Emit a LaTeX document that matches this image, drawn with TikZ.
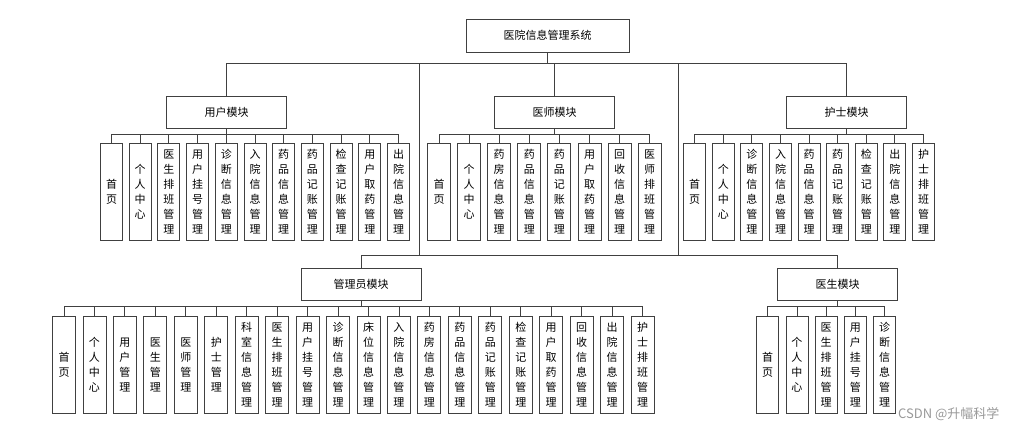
\documentclass[tikz,border=0pt]{standalone}
\usepackage{fontspec}
\setmainfont{Noto Sans CJK SC}
\begin{document}
\begin{tikzpicture}[x=1pt,y=-1pt,
  box/.style={draw=black!75,line width=0.9pt,fill=white,font=\fontsize{11}{13}\selectfont,inner sep=0pt},
  mod/.style={box,minimum width=120pt,minimum height=32pt},
  leaf/.style={box,minimum width=22pt,minimum height=97pt,align=center,font=\fontsize{11}{15}\selectfont},
  ln/.style={draw=black!75,line width=0.9pt}]
\useasboundingbox (0,0) rectangle (1017,434);
\node[box,minimum width=163pt,minimum height=33pt] (root) at (547.5,35.5) {医院信息管理系统};
\node[mod] (user) at (226.5,112) {用户模块};
\node[mod] (doc) at (554.5,112) {医师模块};
\node[mod] (nurse) at (846.5,112) {护士模块};
\node[mod] (admin) at (361,284) {管理员模块};
\node[mod] (doc2) at (837.5,284) {医生模块};
\coordinate (jl) at (419,63);
\coordinate (jr) at (678,63);
\coordinate (bl) at (419,255);
\coordinate (br) at (678,255);
\draw[ln] (root.south) |- (user.north |- jl) -- (user.north);
\draw[ln] (root.south) |- (nurse.north |- jr) -- (nurse.north);
\draw[ln] (jl) -- (bl) -| (admin.north);
\draw[ln] (jr) -- (br) -| (doc2.north);
\draw[ln] (bl) -- (br);
\draw[ln] (root.south |- jl) -| (doc.north);
% user children
\foreach \t [count=\i from 0] in {{首\\页},{个\\人\\中\\心},{医\\生\\排\\班\\管\\理},{用\\户\\挂\\号\\管\\理},{诊\\断\\信\\息\\管\\理},{入\\院\\信\\息\\管\\理},{药\\品\\信\\息\\管\\理},{药\\品\\记\\账\\管\\理},{检\\查\\记\\账\\管\\理},{用\\户\\取\\药\\管\\理},{出\\院\\信\\息\\管\\理}}{
  \node[leaf,anchor=north] (u\i) at (111.5+28.7*\i,143) {\t};
  \draw[ln] (user.south) -- ++(0,6) -| (u\i.north);
}
\foreach \t [count=\i from 0] in {{首\\页},{个\\人\\中\\心},{药\\房\\信\\息\\管\\理},{药\\品\\信\\息\\管\\理},{药\\品\\记\\账\\管\\理},{用\\户\\取\\药\\管\\理},{回\\收\\信\\息\\管\\理},{医\\师\\排\\班\\管\\理}}{
  \node[leaf,anchor=north,minimum width=23pt] (d\i) at (439+30.1*\i,143) {\t};
  \draw[ln] (doc.south) -- ++(0,6) -| (d\i.north);
}
\foreach \t [count=\i from 0] in {{首\\页},{个\\人\\中\\心},{诊\\断\\信\\息\\管\\理},{入\\院\\信\\息\\管\\理},{药\\品\\信\\息\\管\\理},{药\\品\\记\\账\\管\\理},{检\\查\\记\\账\\管\\理},{出\\院\\信\\息\\管\\理},{护\\士\\排\\班\\管\\理}}{
  \node[leaf,anchor=north] (n\i) at (694.7+28.6*\i,143) {\t};
  \draw[ln] (nurse.south) -- ++(0,6) -| (n\i.north);
}
\foreach \t [count=\i from 0] in {{首\\页},{个\\人\\中\\心},{用\\户\\管\\理},{医\\生\\管\\理},{医\\师\\管\\理},{护\\士\\管\\理},{科\\室\\信\\息\\管\\理},{医\\生\\排\\班\\管\\理},{用\\户\\挂\\号\\管\\理},{诊\\断\\信\\息\\管\\理},{床\\位\\信\\息\\管\\理},{入\\院\\信\\息\\管\\理},{药\\房\\信\\息\\管\\理},{药\\品\\信\\息\\管\\理},{药\\品\\记\\账\\管\\理},{检\\查\\记\\账\\管\\理},{用\\户\\取\\药\\管\\理},{回\\收\\信\\息\\管\\理},{出\\院\\信\\息\\管\\理},{护\\士\\排\\班\\管\\理}}{
  \node[leaf,anchor=north,minimum width=23pt] (a\i) at (64+30.45*\i,316) {\t};
  \draw[ln] (admin.south) -- ++(0,6) -| (a\i.north);
}
\foreach \t [count=\i from 0] in {{首\\页},{个\\人\\中\\心},{医\\生\\排\\班\\管\\理},{用\\户\\挂\\号\\管\\理},{诊\\断\\信\\息\\管\\理}}{
  \node[leaf,anchor=north] (e\i) at (767.7+29.25*\i,316) {\t};
  \draw[ln] (doc2.south) -- ++(0,6) -| (e\i.north);
}
\node[text=black!40,font=\fontsize{13}{15}\selectfont,anchor=east] (wm) at (1003,414) {CSDN @升幅科学};
\end{tikzpicture}
\end{document}
